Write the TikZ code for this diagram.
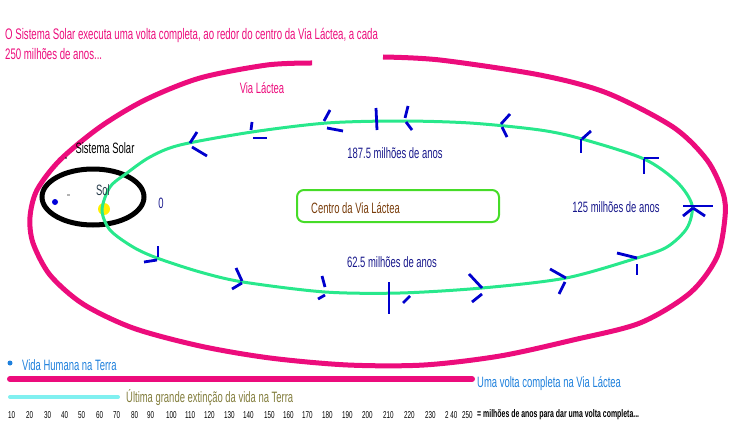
\documentclass[tikz,border=0pt]{standalone}
\usepackage{fontspec}
\setmainfont{Liberation Sans}[FakeStretch=0.63]
\definecolor{vlpink}{RGB}{236,12,124}
\definecolor{orbitgreen}{RGB}{40,232,140}
\definecolor{tickblue}{RGB}{0,0,205}
\definecolor{labelnavy}{RGB}{25,25,140}
\definecolor{boxgreen}{RGB}{70,220,40}
\definecolor{boxbrown}{RGB}{120,60,10}
\definecolor{legendblue}{RGB}{30,128,220}
\definecolor{legendcyan}{RGB}{128,240,240}
\definecolor{olivetext}{RGB}{130,125,60}
\definecolor{solgray}{RGB}{40,60,75}
\definecolor{sunyellow}{RGB}{255,240,0}
\tikzset{
  txt/.style={inner sep=0pt, font=\fontsize{15}{18}\selectfont},
  num/.style={inner sep=0pt, anchor=west, font=\fontsize{10}{12}\selectfont},
  tickmark/.style={draw=tickblue, line width=2.8pt},
}
\begin{document}
\begin{tikzpicture}[x=1pt, y=-1pt]
    \useasboundingbox (0,0) rectangle (735,433);
    \node[txt, text=vlpink, anchor=north west, align=left, font=\fontsize{15.3}{19.3}\selectfont] (title) at (5,28.5)
        {O Sistema Solar executa uma volta completa, ao redor do centro da Via Láctea, a cada\\250 milhões de anos...};
    \draw[vlpink, line width=5pt] plot[smooth] coordinates {(383,57) (440,60) (540,75) (607,93) (673,127) (707,160)
        (723,193) (725,217) (717,257) (690,293) (640,323) (573,340) (500,356) (424,365) (348,365) (270,358)
        (200,346) (133,328) (83,304) (50,275) (33,243) (30,217) (37,190) (60,160) (100,127) (145,100)
        (200,78) (267,65) (312,63)};
    \draw[line width=5pt] (93,197) ellipse [x radius=51pt, y radius=28pt];
    \fill[sunyellow] (104,209) circle [radius=6pt];
    \fill[blue!85!black] (55,202) circle [radius=3pt];
    \fill[gray!60] (67,194) rectangle (70,196);
    \fill (66,158) circle [radius=0.8pt];
    \draw[orbitgreen, line width=3pt] plot[smooth cycle] coordinates {(102,210) (110,187) (127,173) (150,157)
        (180,145) (252,132) (327,123) (400,121) (470,123) (540,130) (582,139) (644,159) (677,182) (692,205)
        (687,228) (667,247) (637,258) (566,278) (482,288) (400,293) (325,292) (243,282) (200,272) (157,258)
        (133,247) (110,230)};
    \foreach \xa/\ya/\xb/\yb in {197/132/190/143, 192/147/207/156, 252/122/251/130, 253/138/267/138,
        330/110/324/121, 327/128/343/131, 376/108/377/130, 408/106/405/118, 406/122/412/130,
        510/114/501/124, 502/127/507/137, 591/131/582/139, 581/139/581/153, 644/158/659/158,
        644/159/644/174, 683/206/713/206, 683/216/693/208, 693/208/705/216, 617/253/637/258,
        637/264/637/275, 550/269/566/278, 565/282/559/294, 469/274/482/288, 482/294/472/302,
        389/282/389/314, 410/296/403/303, 322/276/325/287, 325/295/318/299, 236/268/242/281,
        242/283/232/289, 158/246/158/257, 144/262/157/260}
        \draw[tickmark] (\xa,\ya) -- (\xb,\yb);
    \node[txt] (sistema) at (105,148) {Sistema Solar};
    \node[txt, text=solgray] (sol) at (103,190) {Sol};
    \node[txt, text=labelnavy] (zero) at (161,203) {0};
    \node[txt, text=vlpink] (vialactea) at (262,88) {Via Láctea};
    \node[draw=boxgreen, line width=2pt, rounded corners=7pt, minimum width=202pt, minimum height=32pt] (centro) at (398,206) {};
    \node[txt, text=boxbrown, anchor=west] (centrotxt) at ([xshift=15pt, yshift=-2pt]centro.west) {Centro da Via Láctea};
    \node[txt, text=labelnavy] (t1875) at (395,153) {187.5 milhões de anos};
    \node[txt, text=labelnavy] (t125) at (616,207) {125 milhões de anos};
    \node[txt, text=labelnavy] (t625) at (392,262) {62.5 milhões de anos};
    \fill[legendblue] (10,363) circle [radius=2.5pt];
    \node[txt, text=legendblue, anchor=west] (vida) at (22,365) {Vida Humana na Terra};
    \draw[vlpink, line width=6pt, line cap=round] (10,379) -- (472,379);
    \node[txt, text=legendblue, anchor=west] (volta) at (477,384) {Uma volta completa na Via Láctea};
    \draw[legendcyan, line width=4pt, line cap=round] (10,397) -- (118,397);
    \node[txt, text=olivetext, anchor=west] (extincao) at (126,398) {Última grande extinção da vida na Terra};
    \foreach \n/\px [count=\i] in {10/8, 20/26, 30/44, 40/61, 50/78, 60/96, 70/113, 80/131, 90/147,
        100/166, 110/185, 120/204, 130/224, 140/243, 150/264, 160/283, 170/302, 180/322, 190/342,
        200/362, 210/383, 220/404, 230/425, 2 40/445, 250/462}
        \node[num] (num\i) at (\px,415) {\n};
    \node[num, font=\bfseries\fontsize{11}{13}\selectfont] (legenda) at (477,415) {= milhões de anos para dar uma volta completa...};
\end{tikzpicture}
\end{document}
